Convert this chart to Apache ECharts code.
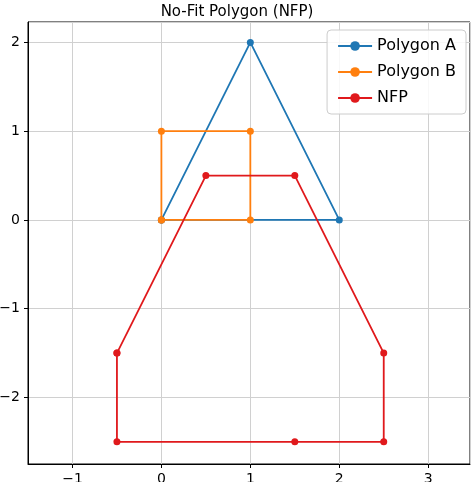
<!DOCTYPE html>
<html><head><meta charset="utf-8">
<script src="https://cdn.jsdelivr.net/npm/echarts@6/dist/echarts.min.js"></script>
<style>html,body{margin:0;padding:0;background:#fff}#c{width:474px;height:482px}</style>
</head><body><div id="c"></div>
<script>
const polygonA = [[0,0],[1,2],[2,0],[0,0]];
const polygonB = [[0,0],[1,0],[1,1],[0,1],[0,0]];
const nfp = [[-0.5,-1.5],[0.5,0.5],[1.5,0.5],[2.5,-1.5],[2.5,-2.5],[1.5,-2.5],[-0.5,-2.5],[-0.5,-1.5]];
const names = ['Polygon A','Polygon B','NFP'];
const colors = ['#1f77b4','#ff7f0e','#e0191c'];
const fmt = v => (v < 0 ? '\u2212' + Math.abs(v) : String(v));
const axisCommon = {
  axisLine:{show:true,onZero:false,lineStyle:{color:'#000'}},
  axisTick:{show:true,inside:false,length:4,lineStyle:{color:'#000'}},
  axisLabel:{color:'#000',fontSize:14,fontFamily:'DejaVu Sans',formatter:fmt,showMinLabel:false,showMaxLabel:false},
  splitLine:{show:true,lineStyle:{color:'#d0d0d0',width:1}}
};
const chart = echarts.init(document.getElementById('c'));
chart.setOption({
  animation:false,
  title:{text:'No-Fit Polygon (NFP)',left:'center',top:0,textStyle:{fontSize:15,fontWeight:'normal',color:'#000',fontFamily:'DejaVu Sans'}},
  grid:{left:28,right:4,top:22,bottom:18,show:true,borderColor:'#000',borderWidth:1,containLabel:false,outerBoundsMode:'none'},
  xAxis:Object.assign({type:'value',min:-1.5,max:3.47},axisCommon),
  yAxis:Object.assign({type:'value',min:-2.75,max:2.23},axisCommon),
  legend:{data:names,orient:'vertical',right:8,top:30,itemWidth:34,itemHeight:12,itemGap:10,
    backgroundColor:'rgba(255,255,255,0.85)',borderColor:'#ccc',borderWidth:1,borderRadius:4,padding:[8,10],
    textStyle:{fontSize:16,color:'#000',fontFamily:'DejaVu Sans'}},
  series:[polygonA,polygonB,nfp].map((d,i)=>({
    name:names[i],type:'line',data:d,symbol:'circle',symbolSize:7,
    lineStyle:{color:colors[i],width:1.8},itemStyle:{color:colors[i]},z:3+i
  }))
});
</script></body></html>
